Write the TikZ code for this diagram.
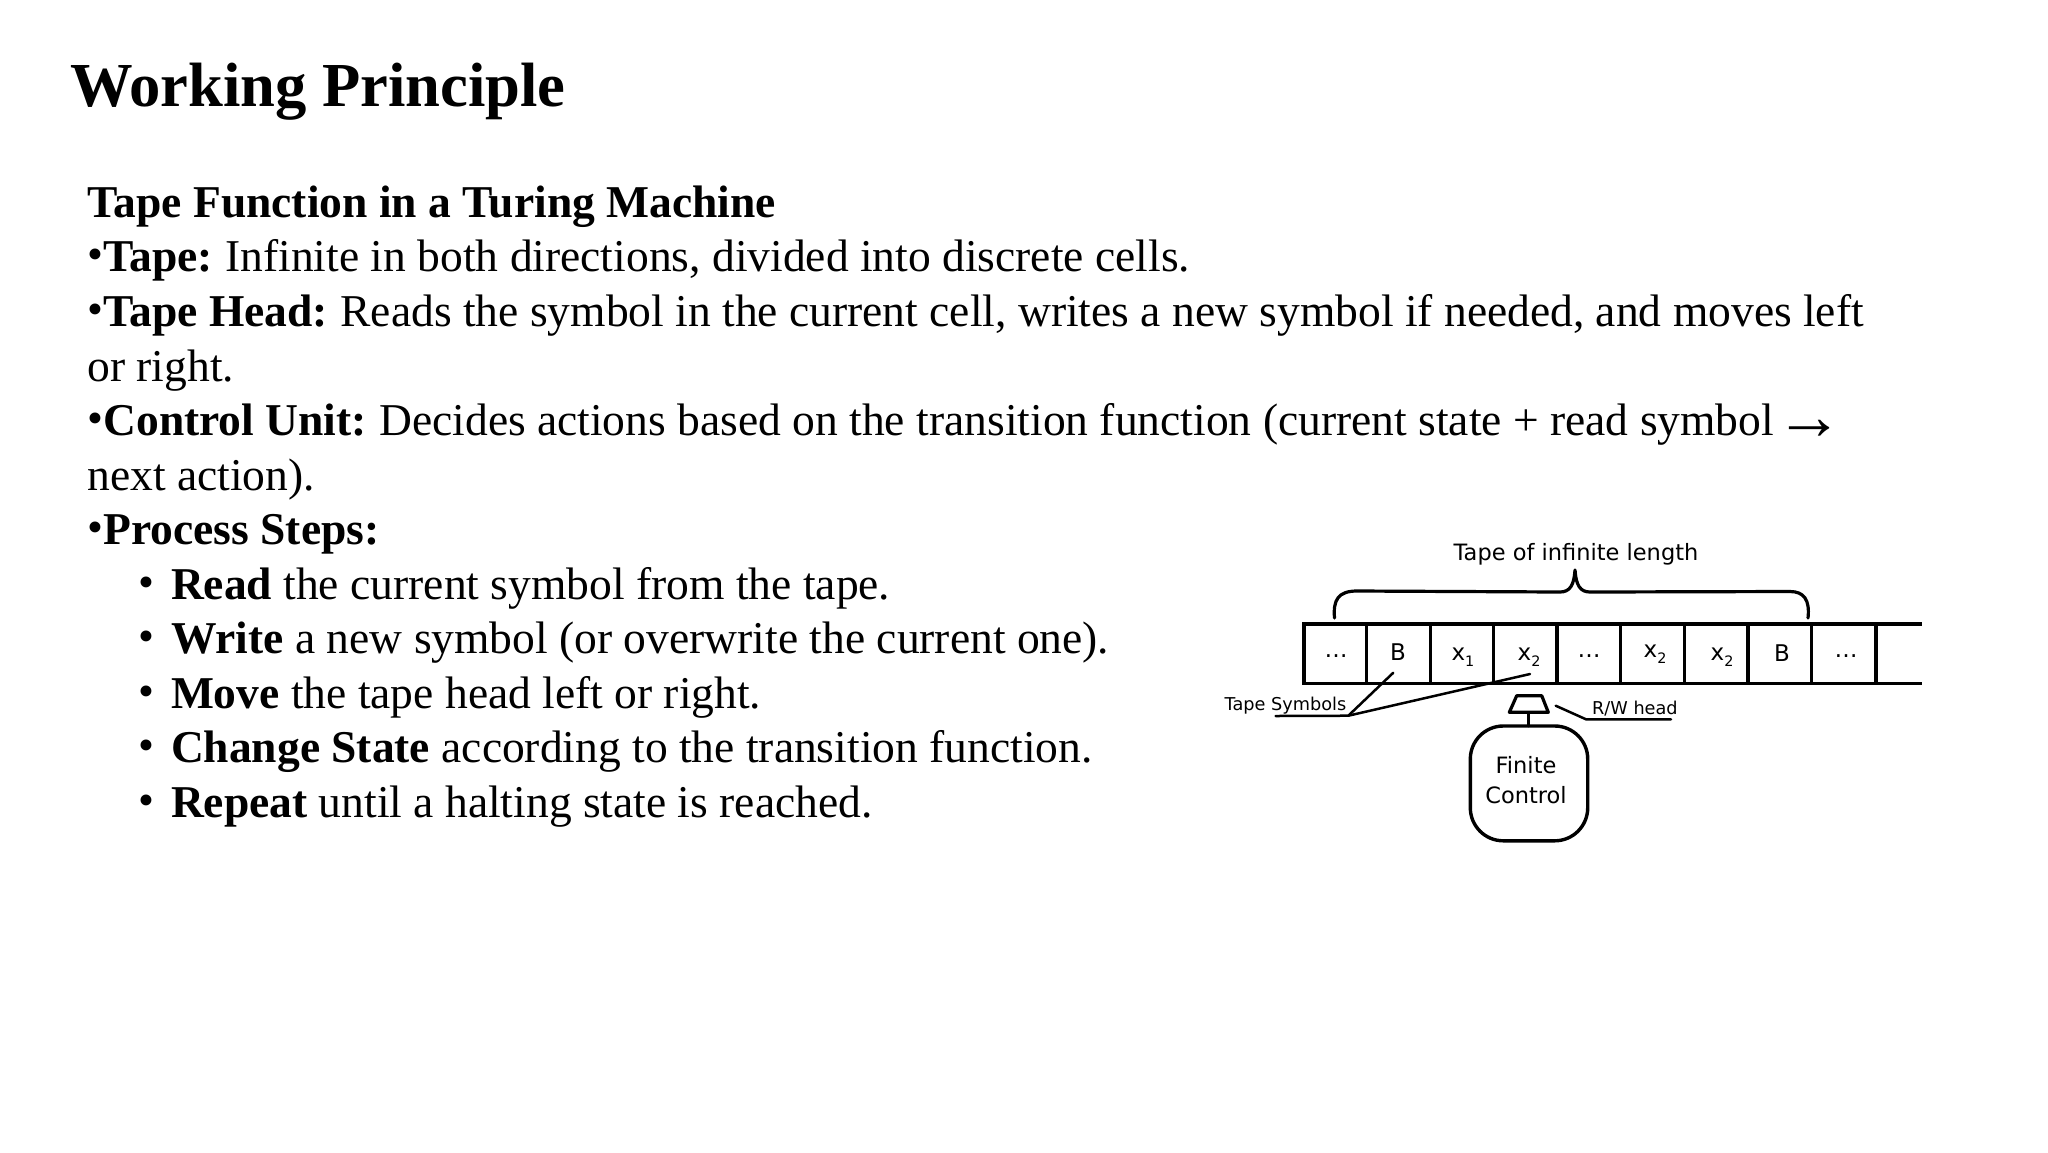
\documentclass[tikz,border=0pt]{standalone}
\usepackage{fontspec}
\setmainfont{Liberation Serif}
\newfontfamily\diagfont{DejaVu Sans}
\newcommand{\tsub}[1]{\raisebox{-0.28em}{\fontsize{7.2pt}{8pt}\selectfont #1}}
\newcommand{\bul}{\raisebox{1pt}{•}}
\newcommand{\tight}{\kern-0.06em}
\tikzset{
  pagetext/.style={anchor=base west,inner sep=0pt,outer sep=0pt},
  titletext/.style={pagetext,font=\fontsize{31.3pt}{36pt}\selectfont\bfseries},
  bodytext/.style={pagetext,font=\fontsize{22.76pt}{27pt}\selectfont},
  tapecell/.style={draw=black,line width=1.7pt,minimum height=29.65pt,inner sep=0pt,outer sep=0pt,anchor=center},
  tapesym/.style={anchor=base,inner sep=0pt,font=\diagfont\fontsize{11.5pt}{13pt}\selectfont},
  smalllabel/.style={anchor=base west,inner sep=0pt,font=\diagfont\fontsize{8.85pt}{11pt}\selectfont},
  boxlabel/.style={anchor=base,inner sep=0pt,font=\diagfont\fontsize{11.25pt}{13pt}\selectfont},
  diagline/.style={line width=1.6pt,line cap=round,line join=round},
  thinline/.style={line width=1.25pt,line cap=round,line join=round},
}
\begin{document}
\begin{tikzpicture}[x=0.5pt,y=-0.5pt]
\useasboundingbox (0,0) rectangle (2048,1152);
\fill[white] (0,0) rectangle (2048,1152);
% text
\node[titletext] (title) at (70,106) {Working Principle};
\node[bodytext] (l1) at (87.5,217.5) {\textbf{Tape Function in a Turing Machine}};
\node[bodytext] (l2) at (87.5,271.3) {\bul\textbf{Tape:}\tight{} Infinite in both directions, divided into discrete cells.};
\node[bodytext] (l3) at (87.5,326) {\bul\textbf{Tape Head:}\tight{} Reads the symbol in the current cell, writes a new symbol if needed, and moves left};
\node[bodytext] (l4) at (87.5,381.2) {or right.};
\node[bodytext] (l5) at (87.5,435.3) {\bul\textbf{Control Unit:}\tight{} Decides actions based on the transition function (current state + read symbol\kern1pt{\fontsize{34pt}{27pt}\selectfont\raisebox{-2.2pt}{→}}};
\node[bodytext] (l6) at (87.5,490) {next action).};
\node[bodytext] (l7) at (87.5,544.6) {\bul\textbf{Process Steps:}};
\foreach \nm/\yy/\bw/\rest in {s1/599.3/Read/the current symbol from the tape.,s2/653.6/Write/a new symbol (or overwrite the current one).,s3/708.6/Move/the tape head left or right.,s4/762.9/Change State/according to the transition function.,s5/817.2/Repeat/until a halting state is reached.}{
  \node[bodytext] (\nm b) at (138.7,\yy) {\bul};
  \node[bodytext] (\nm) at (171,\yy) {\textbf{\bw} \rest};
}
% tape cells
\node[tapecell,minimum width=31.25pt] (c0) at (1335.25,653.65) {};
\node[tapecell,minimum width=32.1pt] (c1) at (1398.6,653.65) {};
\node[tapecell,minimum width=31.4pt] (c2) at (1462.1,653.65) {};
\node[tapecell,minimum width=31.65pt] (c3) at (1525.15,653.65) {};
\node[tapecell,minimum width=31.75pt] (c4) at (1588.55,653.65) {};
\node[tapecell,minimum width=32.1pt] (c5) at (1652.4,653.65) {};
\node[tapecell,minimum width=31.75pt] (c6) at (1716.25,653.65) {};
\node[tapecell,minimum width=31.85pt] (c7) at (1779.85,653.65) {};
\node[tapecell,minimum width=32.15pt] (c8) at (1843.85,653.65) {};
\coordinate (tr) at (1922.3,623.99);
\coordinate (br) at (1922.3,683.3);
\draw[line width=1.7pt] (c8.north east) -- (c8.north east -| tr);
\draw[line width=1.7pt] (c8.south east) -- (c8.south east -| br);
% symbols
\node[tapesym] (t0) at (1336,657.7) {…};
\node[tapesym] (t1) at (1398,660) {B};
\node[tapesym] (t2) at (1463,660) {x\tsub{1}};
\node[tapesym] (t3) at (1529,660) {x\tsub{2}};
\node[tapesym] (t4) at (1589,657.7) {…};
\node[tapesym] (t5) at (1655,657) {x\tsub{2}};
\node[tapesym] (t6) at (1722,660) {x\tsub{2}};
\node[tapesym] (t7) at (1782,661.7) {B};
\node[tapesym] (t8) at (1846,657.7) {…};
% brace
\coordinate (bl) at (1334.5,618);
\coordinate (brr) at (1808,618);
\coordinate (btip) at (1575,570);
\draw[diagline] (bl) .. controls (1333,600) and (1338,591) .. (1357,591) -- (1560,592)
  .. controls (1570,592) and (1574,585) .. (btip)
  .. controls (1576,585) and (1580,592) .. (1590,592) -- (1790,591.5)
  .. controls (1804,591.5) and (1810,600) .. (brr);
\node[boxlabel] (tapetitle) at (1576,560.7) {Tape of infinite length};
% labels
\node[smalllabel] (tslabel) at (1224.3,710) {Tape Symbols};
\node[smalllabel] (rwlabel) at (1591.7,714.3) {R/W head};
\coordinate (tsl) at (1275.7,716);
\coordinate (tsj) at (1348.3,715.7);
\coordinate (tsa) at (1393.3,672.7);
\coordinate (tsb) at (1530,674);
\draw[thinline] (tsl) -- (tsj) -- (tsa);
\draw[thinline] (tsj) -- (tsb);
\coordinate (rwa) at (1555.7,705.7);
\coordinate (rwb) at (1586,719.3);
\coordinate (rwc) at (1671,719.3);
\draw[thinline] (rwa) -- (rwb) -- (rwc);
% head and control
\coordinate (h1) at (1516.7,695.7);
\coordinate (h2) at (1541.7,695.7);
\coordinate (h3) at (1548.3,712.3);
\coordinate (h4) at (1509.3,712.3);
\draw[diagline] (h1) -- (h2) -- (h3) -- (h4) -- cycle;
\coordinate (hs) at (1528.7,712.3);
\node[draw=black,line width=1.7pt,rounded corners=16.5pt,minimum width=58.7pt,minimum height=57.4pt,inner sep=0pt,outer sep=0pt] (control) at (1529,783.4) {};
\draw[thinline] (hs) -- (hs |- control.north);
\node[boxlabel] (fin) at (1526,773) {Finite};
\node[boxlabel] (ctl) at (1526,803) {Control};
\end{tikzpicture}
\end{document}
